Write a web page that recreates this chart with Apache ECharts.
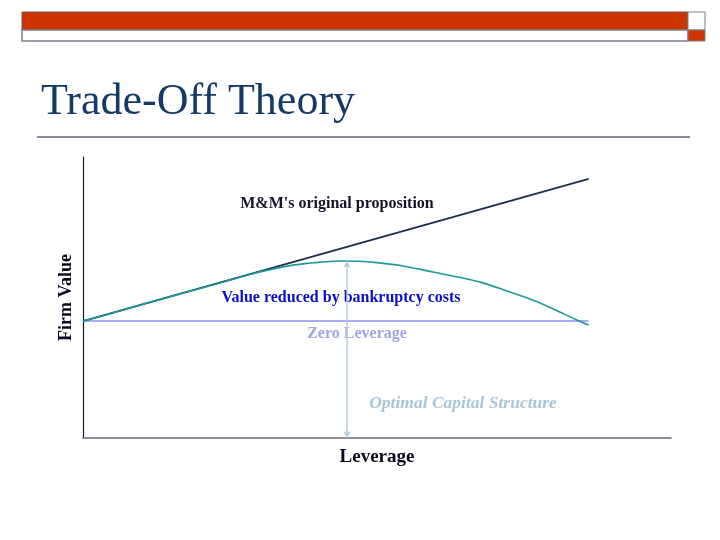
<!DOCTYPE html>
<html>
<head>
<meta charset="utf-8">
<script src="https://cdn.jsdelivr.net/npm/echarts@6/dist/echarts.min.js"></script>
<style>
  html, body { margin: 0; padding: 0; background: #fff; }
  #main { width: 720px; height: 540px; }
</style>
</head>
<body>
<div id="main"></div>
<script>
// leverage (x) and firm value (y), axis 0..100
var mmLeverage = [0, 86]
var mmValue = [41.6, 92.2]

var tradeOffLeverage = [0, 5, 10, 15, 20, 24, 28, 32, 36, 40, 44, 47, 50, 54, 59.5, 64, 68, 72, 76.5, 80, 84, 86]
var tradeOffValue = [41.6, 44.5, 47.5, 50.4, 53.3, 55.6, 58.0, 60.0, 61.6, 62.5, 63.0, 62.9, 62.4, 61.4, 59.1, 57.2, 55.2, 52.4, 49.1, 45.9, 42.0, 40.2]

var zeroLeverage = [0, 86]
var zeroValue = [41.6, 41.6]

var optimalLeverage = 44.9
var optimalValue = [63, 0]

function pairs (xs, ys) {
  return xs.map(function (x, i) { return [x, ys[i]] })
}

var serif = '"Liberation Serif", "DejaVu Serif", serif'
var chart = echarts.init(document.getElementById('main'))

var option = {
  animation: false,
  backgroundColor: '#ffffff',
  grid: { left: 83, right: 49, top: 157, bottom: 102 },
  xAxis: {
    type: 'value', min: 0, max: 100,
    name: 'Leverage', nameLocation: 'middle', nameGap: 10,
    nameTextStyle: { fontFamily: serif, fontWeight: 'bold', fontSize: 19, color: '#0a0a1e', verticalAlign: 'top' },
    axisLine: { show: true, lineStyle: { color: '#6a6a78', width: 1.5 } },
    axisTick: { show: false }, axisLabel: { show: false }, splitLine: { show: false }
  },
  yAxis: {
    type: 'value', min: 0, max: 100,
    name: 'Firm Value', nameLocation: 'middle', nameGap: 8,
    nameTextStyle: { fontFamily: serif, fontWeight: 'bold', fontSize: 18, color: '#0a0a1e' },
    axisLine: { show: true, lineStyle: { color: '#1a1a24', width: 1.2 } },
    axisTick: { show: false }, axisLabel: { show: false }, splitLine: { show: false }
  },
  series: [
    {
      name: 'Zero Leverage', type: 'line', showSymbol: false, z: 2,
      lineStyle: { color: '#8f8ff2', width: 1.5 },
      data: pairs(zeroLeverage, zeroValue)
    },
    {
      name: "M&M's original proposition", type: 'line', showSymbol: false, z: 3,
      lineStyle: { color: '#1c2d4e', width: 1.7 },
      data: pairs(mmLeverage, mmValue)
    },
    {
      name: 'Value reduced by bankruptcy costs', type: 'line', showSymbol: false, smooth: 0.3, z: 4,
      lineStyle: { color: '#1b9a9a', width: 1.6 },
      data: pairs(tradeOffLeverage, tradeOffValue),
      markLine: {
        silent: true,
        symbol: ['arrow', 'arrow'],
        symbolSize: [6, 7],
        label: { show: false },
        lineStyle: { color: '#b7cede', width: 1.5, type: 'solid' },
        data: [[{ coord: [optimalLeverage, optimalValue[0]] }, { coord: [optimalLeverage, optimalValue[1]] }]]
      }
    }
  ],
  graphic: [
    // slide header bars
    { type: 'rect', shape: { x: 22, y: 12, width: 666, height: 18 }, style: { fill: '#cc3300', stroke: '#6e5a5a', lineWidth: 1 } },
    { type: 'rect', shape: { x: 22, y: 30, width: 666, height: 11 }, style: { fill: '#ffffff', stroke: '#7f7f8c', lineWidth: 1.5 } },
    { type: 'rect', shape: { x: 688, y: 12, width: 17, height: 18 }, style: { fill: '#ffffff', stroke: '#7f7f8c', lineWidth: 1 } },
    { type: 'rect', shape: { x: 688, y: 30, width: 17, height: 11 }, style: { fill: '#cc3300', stroke: '#7f7f8c', lineWidth: 1 } },
    // title
    { type: 'text', left: 41, top: 80, style: { text: 'Trade-Off Theory', font: '44px ' + serif, fill: '#153a68' } },
    { type: 'line', shape: { x1: 37, y1: 137, x2: 690, y2: 137 }, style: { stroke: '#8a8a98', lineWidth: 2 } },
    // annotations inside the plot
    { type: 'text', x: 337, y: 204, style: { text: "M&M's original proposition", font: 'bold 16px ' + serif, fill: '#14142a', align: 'center', verticalAlign: 'middle' } },
    { type: 'text', x: 341, y: 298, style: { text: 'Value reduced by bankruptcy costs', font: 'bold 16px ' + serif, fill: '#0a10c8', align: 'center', verticalAlign: 'middle' } },
    { type: 'text', x: 357, y: 334, style: { text: 'Zero Leverage', font: 'bold 16px ' + serif, fill: '#a3a3e2', align: 'center', verticalAlign: 'middle' } },
    { type: 'text', x: 463, y: 403, style: { text: 'Optimal Capital Structure', font: 'italic bold 17.5px ' + serif, fill: '#a9c6d6', align: 'center', verticalAlign: 'middle' } }
  ]
}

chart.setOption(option)
</script>
</body>
</html>
